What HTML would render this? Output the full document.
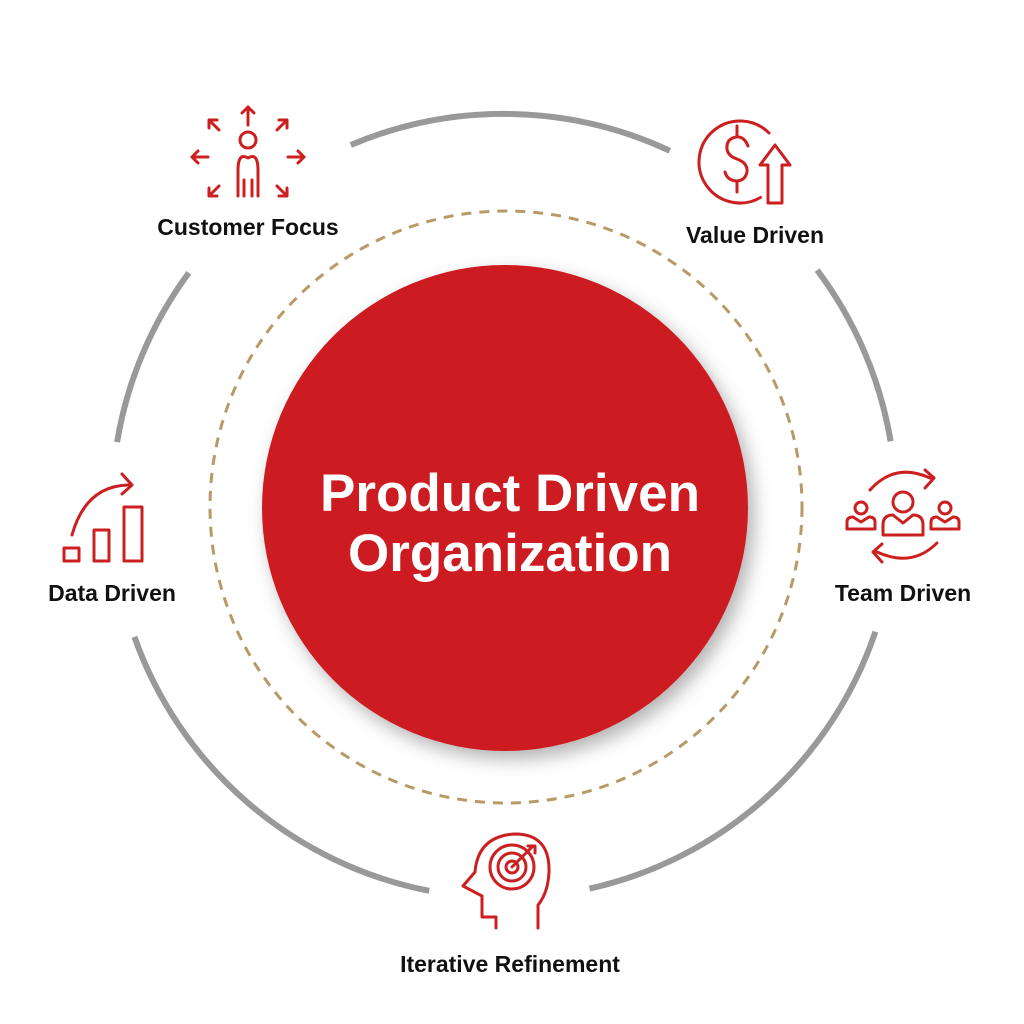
<!DOCTYPE html>
<html><head><meta charset="utf-8"><style>
html,body{margin:0;padding:0;background:#fff;}
svg{display:block}
text{font-family:"Liberation Sans",sans-serif;font-weight:bold}
</style></head><body>
<svg width="1024" height="1024" viewBox="0 0 1024 1024">
<defs>
<filter id="sh" x="-20%" y="-20%" width="140%" height="140%"><feDropShadow dx="6" dy="8" stdDeviation="9" flood-color="#000" flood-opacity="0.3"/></filter>
</defs>
<g fill="none" stroke="#999" stroke-width="6">
<path d="M350.8,145 A392,392 0 0 1 669.8,150.8"/>
<path d="M817.1,270.1 A392,392 0 0 1 890.6,441.3"/>
<path d="M875.4,631.7 A392,392 0 0 1 589.5,888.6"/>
<path d="M429.2,890.8 A392,392 0 0 1 134.4,636.9"/>
<path d="M117.1,442.1 A392,392 0 0 1 188.8,272.8"/>
</g>
<circle cx="506" cy="507" r="296" fill="none" stroke="#b89a66" stroke-width="3" stroke-dasharray="10,8"/>
<circle cx="505" cy="508" r="243" fill="#cc1f20" filter="url(#sh)"/>
<text x="510" y="511" fill="#fff" font-size="53" text-anchor="middle">Product Driven</text>
<text x="510" y="571" fill="#fff" font-size="53" text-anchor="middle">Organization</text>
<g fill="#111" font-size="23" text-anchor="middle">
<text x="248" y="235">Customer Focus</text>
<text x="755" y="243">Value Driven</text>
<text x="112" y="601">Data Driven</text>
<text x="903" y="601">Team Driven</text>
<text x="510" y="972">Iterative Refinement</text>
</g>
<g fill="none" stroke="#cc1f20" stroke-width="3" stroke-linecap="round" stroke-linejoin="round">
<circle cx="248" cy="140" r="8"/>
<path d="M238,196 V170 Q238,152 248,158 Q258,152 258,170 V196 M244,180 V196 M252,180 V196"/>
<path d="M248,107 V125 M242,113 L248,107 L254,113"/>
<path d="M192,157 H208 M198,151 L192,157 L198,163"/>
<path d="M288,157 H304 M298,151 L304,157 L298,163"/>
<path d="M209,120 L219,130 M209,128 V120 H217"/>
<path d="M287,120 L277,130 M287,128 V120 H279"/>
<path d="M209,196 L219,186 M209,188 V196 H217"/>
<path d="M287,196 L277,186 M287,188 V196 H279"/>
<path d="M769,133 A41,41 0 1 0 760.5,197.5"/>
<path d="M748,146 Q744,136 736,137 Q726,139 727,149 Q728,156 737,159 Q748,163 747,172 Q745,181 736,181 Q727,180 725,172 M737,126 V136 M737,182 V192"/>
<path d="M768,203 V165 H760 L775,145 L790,165 H782 V203 Z"/>
<rect x="64" y="548" width="15" height="13"/>
<rect x="94" y="530" width="15" height="31"/>
<rect x="124" y="507" width="18" height="54"/>
<path d="M72,535 Q86,485 130,485 M122,474 L132,485 L122,494"/>
<circle cx="903" cy="502" r="10"/>
<path d="M883,535 V525 Q883,515 893,515 L903,523 L913,515 Q923,515 923,525 V535 Z"/>
<circle cx="861" cy="508" r="6"/>
<path d="M847,529 V522 Q847,517 853,517 L861,522 L869,517 Q875,517 875,522 V529 Z"/>
<circle cx="945" cy="508" r="6"/>
<path d="M931,529 V522 Q931,517 937,517 L945,522 L953,517 Q959,517 959,522 V529 Z"/>
<path d="M870,490 Q895,462 930,478 M925,470 L934,478 L925,488"/>
<path d="M937,543 Q912,568 877,552 M882,544 L873,552 L882,562"/>
<path d="M496,928 V917 H482 V896 L463,886 L475,872 Q478,836 515,834 Q550,834 549,872 Q548,893 538,905 V928"/>
<circle cx="512" cy="867" r="22"/>
<circle cx="512" cy="867" r="14"/>
<circle cx="512" cy="867" r="6"/>
<path d="M512,867 L533,846 M528,846 H535 V853"/>
</g>
</svg>
</body></html>
